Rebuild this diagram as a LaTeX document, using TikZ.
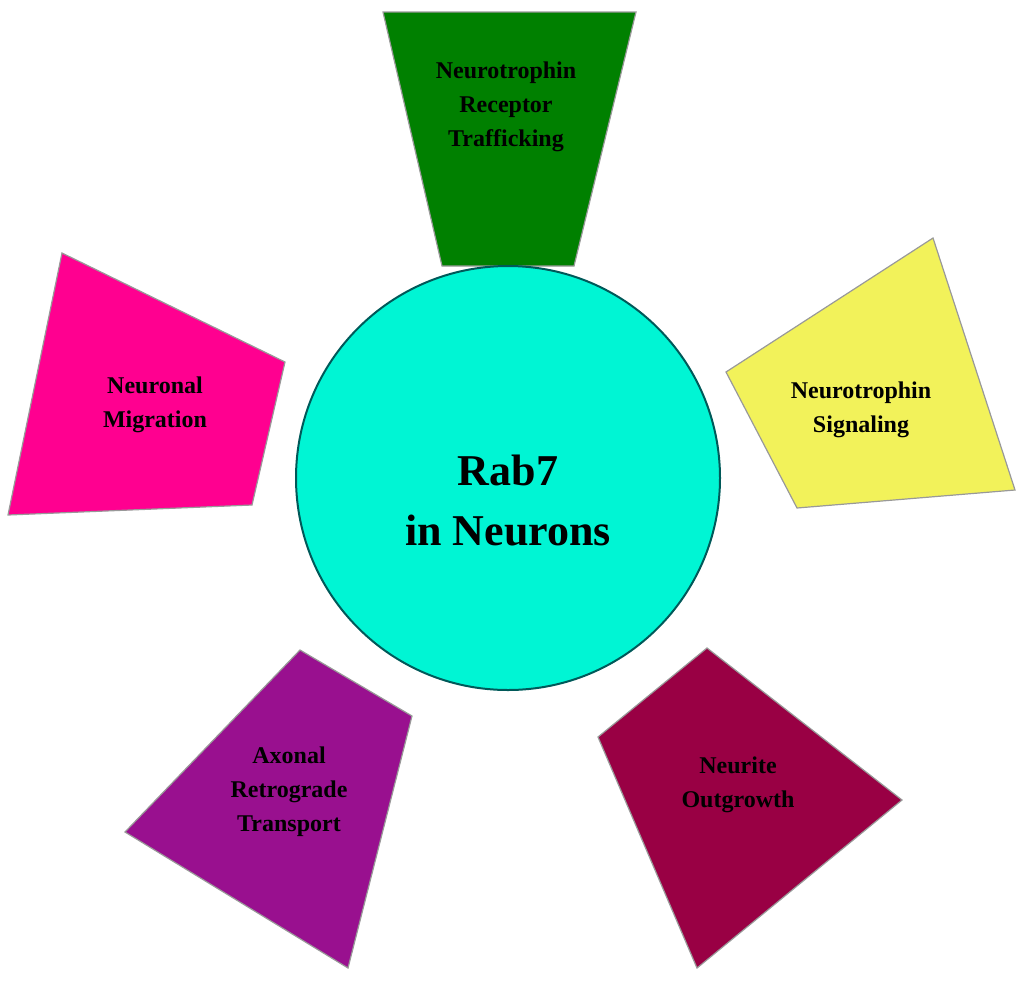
\documentclass[tikz,border=0pt]{standalone}
\usepackage{fontspec}
\setmainfont{Liberation Serif}
\begin{document}
\begin{tikzpicture}[x=1pt,y=-1pt,
  blk/.style={draw=black!40,line width=1.2pt},
  lbl/.style={font=\bfseries\fontsize{24}{34}\selectfont,align=center,text=black}]
\useasboundingbox (0,0) rectangle (1024,980);
\definecolor{cgreen}{RGB}{0,128,0}
\definecolor{cyel}{RGB}{242,242,90}
\definecolor{cpink}{RGB}{255,0,144}
\definecolor{cpurp}{RGB}{153,16,143}
\definecolor{cmar}{RGB}{153,0,68}
\definecolor{ccyan}{RGB}{0,245,212}
\fill[blk,fill=cgreen] (383,12) -- (636,12) -- (574,266) -- (442,266) -- cycle;
\fill[blk,fill=cyel] (726,372) -- (933,238) -- (1015,490) -- (797,508) -- cycle;
\fill[blk,fill=cpink] (62,253) -- (285,362) -- (252,505) -- (8,515) -- cycle;
\fill[blk,fill=cpurp] (300,650) -- (412,716) -- (348,968) -- (125,832) -- cycle;
\fill[blk,fill=cmar] (598,737) -- (707,648) -- (902,800) -- (697,968) -- cycle;
\node[circle,minimum size=424pt,fill=ccyan,draw=teal!70!black,line width=2pt] (c) at (508,478) {};
\node[lbl] (t1) at (506,107) {Neurotrophin\\Receptor\\Trafficking};
\node[lbl] (t2) at (861,410) {Neurotrophin\\Signaling};
\node[lbl] (t3) at (155,405) {Neuronal\\Migration};
\node[lbl] (t4) at (289,792) {Axonal\\Retrograde\\Transport};
\node[lbl] (t5) at (738,785) {Neurite\\Outgrowth};
\node[font=\bfseries\fontsize{44}{60}\selectfont,align=center] (t0) at (508,500) {Rab7\\in Neurons};
\end{tikzpicture}
\end{document}
